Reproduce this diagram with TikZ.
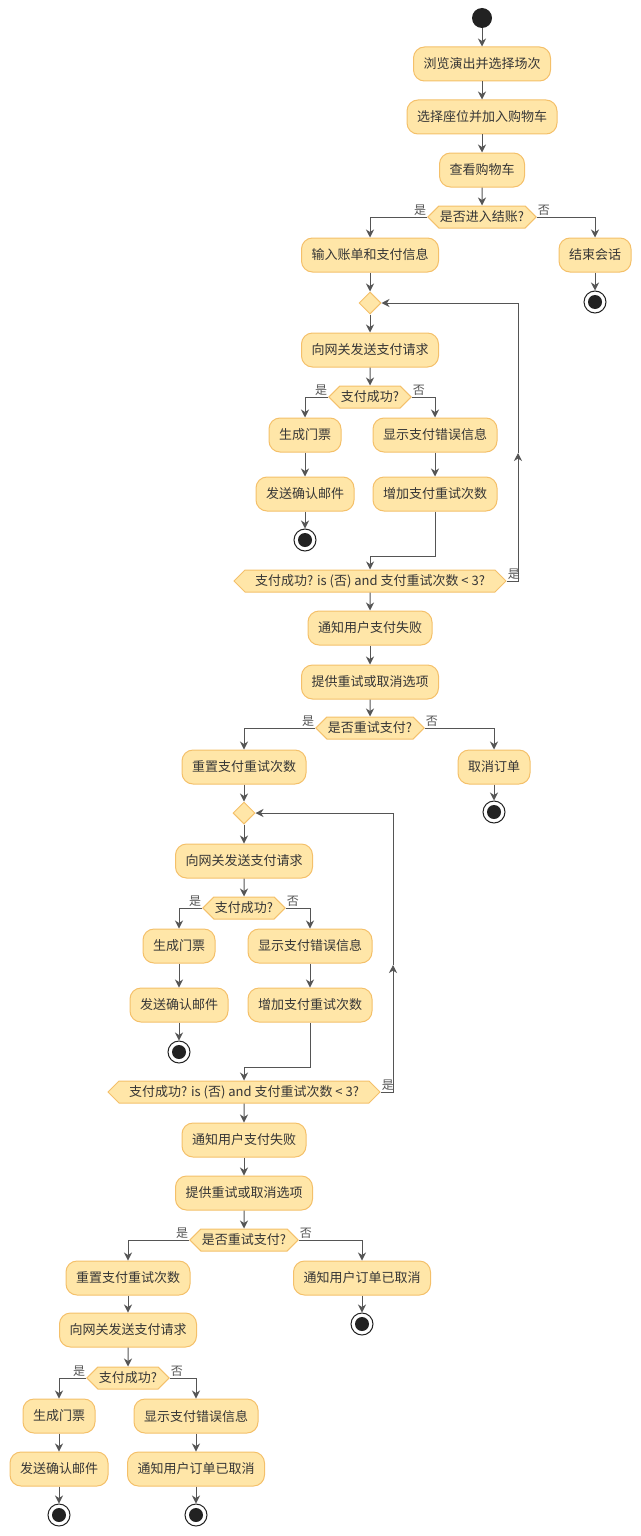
\documentclass[tikz,border=0pt]{standalone}
\usepackage{fontspec}
\newfontfamily\cjk{Noto Sans CJK SC}
\usepackage{tikz}
\usetikzlibrary{shapes.geometric, shapes.symbols, arrows.meta}
\definecolor{actfill}{HTML}{FFE6A8}
\definecolor{actline}{HTML}{F4C06A}
\definecolor{flowline}{HTML}{555555}
\definecolor{textdark}{HTML}{363636}
\definecolor{dotfill}{HTML}{222222}
\tikzset{
  >={Stealth[length=8pt,width=8pt,inset=2.5pt]}, % arrow head of the flow lines
  act/.style={draw=actline,fill=actfill,rounded corners=11pt,minimum height=34pt,
    inner xsep=10pt,inner ysep=0pt,line width=1pt,text=textdark,
    font=\cjk\fontsize{13}{15}\selectfont},
  cond/.style={signal,signal to=west and east,signal pointer angle=90,
    draw=actline,fill=actfill,minimum height=22pt,inner xsep=1pt,inner ysep=0pt,
    line width=1pt,text=textdark,font=\cjk\fontsize{13}{15}\selectfont},
  long cond/.style={cond,inner xsep=10pt},
  merge/.style={diamond,draw=actline,fill=actfill,minimum width=22pt,
    minimum height=22pt,inner sep=0pt,line width=1pt},
  startdot/.style={circle,fill=dotfill,minimum size=20pt,inner sep=0pt},
  stopdot/.style={circle,draw=dotfill,fill=white,minimum size=22pt,inner sep=0pt,
    line width=1pt,path picture={\fill[dotfill] (path picture bounding box.center) circle (7pt);}},
  flow/.style={->,draw=flowline,line width=1pt},
  lbl/.style={inner sep=1pt,text=textdark!85,font=\cjk\fontsize{12}{14}\selectfont}
}

\begin{document}
\begin{tikzpicture}[x=1pt,y=-1pt]
\useasboundingbox (0,0) rectangle (640,1536);

% -------- Browse and cart --------
\node[startdot] (start) at (482,18) {};
\node[act] (browse) at (482,64) {浏览演出并选择场次};
\node[act] (seat) at (482,117) {选择座位并加入购物车};
\node[act] (cart) at (482,170) {查看购物车};
\node[cond] (checkout) at (482,217) {是否进入结账?};
\node[lbl, anchor=south east] (yes1) at (checkout.west) {是};
\node[lbl, anchor=south west] (no1) at (checkout.east) {否};
\node[act] (input) at (370,255) {输入账单和支付信息};
\node[act] (endsess) at (595,255) {结束会话};
\node[stopdot] (stop1) at (595,302) {};

% -------- First payment loop --------
\node[merge] (merge1) at (370,303) {};
\node[act] (send1) at (370,350) {向网关发送支付请求};
\node[cond] (ok1) at (370,397) {支付成功?};
\node[lbl, anchor=south east] (yes2) at (ok1.west) {是};
\node[lbl, anchor=south west] (no2) at (ok1.east) {否};
\node[act] (ticket1) at (305,435) {生成门票};
\node[act] (mail1) at (305,494) {发送确认邮件};
\node[stopdot] (stop2) at (305,540) {};
\node[act] (err1) at (435,435) {显示支付错误信息};
\node[act] (inc1) at (435,494) {增加支付重试次数};
\coordinate (join1) at (435,556);
\node[long cond] (retry1) at (370,581) {支付成功? is (否) and 支付重试次数 < 3?};
\node[lbl, anchor=south west] (yes3) at (retry1.east) {是};
\coordinate (up1) at (518,453);

% -------- Retry choice --------
\node[act] (notify1) at (370,628) {通知用户支付失败};
\node[act] (offer1) at (370,682) {提供重试或取消选项};
\node[cond] (again1) at (370,728) {是否重试支付?};
\node[lbl, anchor=south east] (yes4) at (again1.west) {是};
\node[lbl, anchor=south west] (no4) at (again1.east) {否};
\node[act] (reset1) at (244,767) {重置支付重试次数};
\node[act] (cancel1) at (494,767) {取消订单};
\node[stopdot] (stop3) at (494,812) {};

% -------- Second payment loop --------
\node[merge] (merge2) at (244,813) {};
\node[act] (send2) at (244,861) {向网关发送支付请求};
\node[cond] (ok2) at (244,908) {支付成功?};
\node[lbl, anchor=south east] (yes5) at (ok2.west) {是};
\node[lbl, anchor=south west] (no5) at (ok2.east) {否};
\node[act] (ticket2) at (179,946) {生成门票};
\node[act] (mail2) at (179,1005) {发送确认邮件};
\node[stopdot] (stop4) at (179,1052) {};
\node[act] (err2) at (310,946) {显示支付错误信息};
\node[act] (inc2) at (310,1005) {增加支付重试次数};
\coordinate (join2) at (310,1067);
\node[long cond] (retry2) at (244,1092) {支付成功? is (否) and 支付重试次数 < 3?};
\node[lbl, anchor=south west] (yes6) at (retry2.east) {是};
\coordinate (up2) at (393,965);

% -------- Last attempt --------
\node[act] (notify2) at (244,1140) {通知用户支付失败};
\node[act] (offer2) at (244,1193) {提供重试或取消选项};
\node[cond] (again2) at (244,1240) {是否重试支付?};
\node[lbl, anchor=south east] (yes7) at (again2.west) {是};
\node[lbl, anchor=south west] (no7) at (again2.east) {否};
\node[act] (reset2) at (128,1278) {重置支付重试次数};
\node[act] (told1) at (362,1278) {通知用户订单已取消};
\node[stopdot] (stop5) at (362,1324) {};
\node[act] (send3) at (128,1330) {向网关发送支付请求};
\node[cond] (ok3) at (128,1378) {支付成功?};
\node[lbl, anchor=south east] (yes8) at (ok3.west) {是};
\node[lbl, anchor=south west] (no8) at (ok3.east) {否};
\node[act] (ticket3) at (59,1416) {生成门票};
\node[act] (mail3) at (59,1469) {发送确认邮件};
\node[stopdot] (stop6) at (59,1515) {};
\node[act] (err3) at (196,1416) {显示支付错误信息};
\node[act] (told2) at (196,1469) {通知用户订单已取消};
\node[stopdot] (stop7) at (196,1515) {};

% Flow
\draw[flow] (start) -- (browse);
\draw[flow] (browse) -- (seat);
\draw[flow] (seat) -- (cart);
\draw[flow] (cart) -- (checkout);
\draw[flow] (checkout.west) -| (input);
\draw[flow] (checkout.east) -| (endsess);
\draw[flow] (endsess) -- (stop1);
\draw[flow] (input) -- (merge1);

\draw[flow] (merge1) -- (send1);
\draw[flow] (send1) -- (ok1);
\draw[flow] (ok1.west) -| (ticket1);
\draw[flow] (ok1.east) -| (err1);
\draw[flow] (ticket1) -- (mail1);
\draw[flow] (mail1) -- (stop2);
\draw[flow] (err1) -- (inc1);
\draw[flow] (inc1) -- (join1) -| (retry1);
\draw[flow] (retry1.east) -| (up1);
\draw[flow] (up1) |- (merge1.east);
\draw[flow] (retry1) -- (notify1);

\draw[flow] (notify1) -- (offer1);
\draw[flow] (offer1) -- (again1);
\draw[flow] (again1.west) -| (reset1);
\draw[flow] (again1.east) -| (cancel1);
\draw[flow] (cancel1) -- (stop3);
\draw[flow] (reset1) -- (merge2);

\draw[flow] (merge2) -- (send2);
\draw[flow] (send2) -- (ok2);
\draw[flow] (ok2.west) -| (ticket2);
\draw[flow] (ok2.east) -| (err2);
\draw[flow] (ticket2) -- (mail2);
\draw[flow] (mail2) -- (stop4);
\draw[flow] (err2) -- (inc2);
\draw[flow] (inc2) -- (join2) -| (retry2);
\draw[flow] (retry2.east) -| (up2);
\draw[flow] (up2) |- (merge2.east);
\draw[flow] (retry2) -- (notify2);

\draw[flow] (notify2) -- (offer2);
\draw[flow] (offer2) -- (again2);
\draw[flow] (again2.west) -| (reset2);
\draw[flow] (again2.east) -| (told1);
\draw[flow] (told1) -- (stop5);
\draw[flow] (reset2) -- (send3);
\draw[flow] (send3) -- (ok3);
\draw[flow] (ok3.west) -| (ticket3);
\draw[flow] (ok3.east) -| (err3);
\draw[flow] (ticket3) -- (mail3);
\draw[flow] (mail3) -- (stop6);
\draw[flow] (err3) -- (told2);
\draw[flow] (told2) -- (stop7);

\end{tikzpicture}
\end{document}
